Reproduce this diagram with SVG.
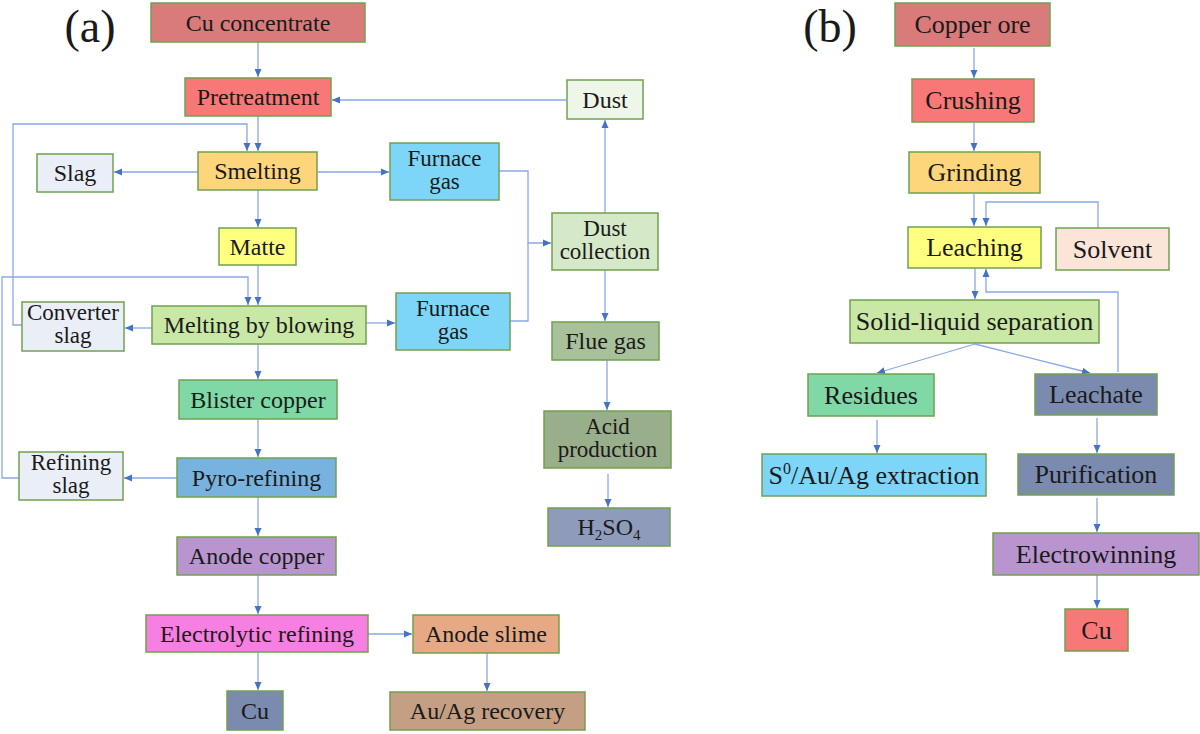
<svg xmlns="http://www.w3.org/2000/svg" width="1200" height="734" viewBox="0 0 1200 734" font-family="'Liberation Serif', 'Times New Roman', 'DejaVu Serif', serif">
<defs>
<marker id="ah" viewBox="0 0 8 8" refX="8" refY="4" markerWidth="8" markerHeight="8" markerUnits="userSpaceOnUse" orient="auto"><path d="M0,0.5 L8,4 L0,7.5 z" fill="#4472c4"/></marker>
<style>
rect{stroke:#72a04f;stroke-width:1.5}
text{fill:#1a1a1a;text-anchor:middle}
.a text{font-size:24px}
.b text{font-size:26px}
.a text.two{font-size:23px}
text.lbl{font-size:46px}
#conn path{fill:none;stroke:#8aa8e6;stroke-width:1.3}
#conn path.ar{marker-end:url(#ah)}
</style>
</defs>
<rect width="1200" height="734" fill="#fff" style="stroke:none"/>
<text class="lbl" x="90" y="42" font-family="'Liberation Serif', serif">(a)</text>
<text class="lbl" x="830" y="42" font-family="'Liberation Serif', serif">(b)</text>
<g id="conn">
<path class="ar" d="M258,42 V77"/>
<path class="ar" d="M566,100 H332"/>
<path class="ar" d="M258,116 V151"/>
<path class="ar" d="M22,325 H13 V124 H247 V151"/>
<path class="ar" d="M198,172 H114"/>
<path class="ar" d="M318,172 H389"/>
<path class="ar" d="M499,171 H528 V243 H551"/>
<path d="M510,321 H528 V243"/>
<path class="ar" d="M605,213 V120"/>
<path class="ar" d="M258,190 V227"/>
<path class="ar" d="M258,265 V305"/>
<path class="ar" d="M19,478 H2 V277 H248 V305"/>
<path class="ar" d="M152,328 H125"/>
<path class="ar" d="M366,323 H395"/>
<path class="ar" d="M258,344 V379"/>
<path class="ar" d="M258,419 V457"/>
<path class="ar" d="M177,478 H124"/>
<path class="ar" d="M258,497 V536"/>
<path class="ar" d="M258,575 V614"/>
<path class="ar" d="M368,634 H412"/>
<path class="ar" d="M258,652 V690"/>
<path class="ar" d="M487,653 V691"/>
<path class="ar" d="M605,270 V321"/>
<path class="ar" d="M607,360 V410"/>
<path class="ar" d="M608,474 V507"/>
<path class="ar" d="M974,48 V78"/>
<path class="ar" d="M974,123 V151"/>
<path class="ar" d="M974,194 V226"/>
<path class="ar" d="M1098,228 V202 H986 V226"/>
<path class="ar" d="M975,268 V299"/>
<path class="ar" d="M1118,372 V292 H986 V269"/>
<path class="ar" d="M975,344 L877,373"/>
<path class="ar" d="M975,344 L1090,373"/>
<path class="ar" d="M877,420 V453"/>
<path class="ar" d="M1097,418 V453"/>
<path class="ar" d="M1097,498 V532"/>
<path class="ar" d="M1097,575 V608"/>
</g>
<g class="a" font-family="'Liberation Serif', serif">
<g id="cu-concentrate"><rect x="151" y="3" width="214" height="39" fill="#d97b7b"/><text x="258" y="31">Cu concentrate</text></g>
<g id="pretreatment"><rect x="185" y="78" width="146" height="38" fill="#f87878"/><text x="258" y="105">Pretreatment</text></g>
<g id="smelting"><rect x="198" y="152" width="119" height="38" fill="#fdd57b"/><text x="257.5" y="179">Smelting</text></g>
<g id="slag"><rect x="37" y="154" width="76" height="38" fill="#e9eef7"/><text x="75" y="181">Slag</text></g>
<g id="furnace-gas-1"><rect x="390" y="143" width="109" height="57" fill="#7dd6f7"/><text class="two" x="444.5" y="166">Furnace</text><text class="two" x="444.5" y="189">gas</text></g>
<g id="dust"><rect x="567" y="80" width="76" height="39" fill="#eef5e9"/><text x="605" y="108">Dust</text></g>
<g id="dust-collection"><rect x="552" y="213" width="106" height="57" fill="#d5e8c8"/><text class="two" x="605" y="236">Dust</text><text class="two" x="605" y="259">collection</text></g>
<g id="matte"><rect x="219" y="228" width="77" height="37" fill="#ffff80"/><text x="257.5" y="255">Matte</text></g>
<g id="melting"><rect x="152" y="306" width="214" height="38" fill="#c9e7a5"/><text x="259" y="333">Melting by blowing</text></g>
<g id="converter-slag"><rect x="22" y="302" width="102" height="49" fill="#e9eef7"/><text class="two" x="73" y="320">Converter</text><text class="two" x="73" y="343">slag</text></g>
<g id="furnace-gas-2"><rect x="396" y="293" width="114" height="57" fill="#7dd6f7"/><text class="two" x="453" y="316">Furnace</text><text class="two" x="453" y="339">gas</text></g>
<g id="blister-copper"><rect x="179" y="380" width="158" height="39" fill="#7fd8a5"/><text x="258" y="408">Blister copper</text></g>
<g id="pyro-refining"><rect x="177" y="458" width="159" height="39" fill="#78b3df"/><text x="256.5" y="486">Pyro-refining</text></g>
<g id="refining-slag"><rect x="19" y="452" width="104" height="48" fill="#e9eef7"/><text class="two" x="71" y="470">Refining</text><text class="two" x="71" y="493">slag</text></g>
<g id="anode-copper"><rect x="177" y="537" width="159" height="38" fill="#b995cf"/><text x="256.5" y="564">Anode copper</text></g>
<g id="electrolytic-refining"><rect x="146" y="615" width="222" height="37" fill="#f77fe2"/><text x="257" y="642">Electrolytic refining</text></g>
<g id="anode-slime"><rect x="413" y="615" width="146" height="38" fill="#e6a985"/><text x="486" y="642">Anode slime</text></g>
<g id="cu-a"><rect x="227" y="691" width="56" height="39" fill="#7b8bb0"/><text x="255" y="719">Cu</text></g>
<g id="au-ag-recovery"><rect x="390" y="692" width="195" height="38" fill="#c59f84"/><text x="487.5" y="719">Au/Ag recovery</text></g>
<g id="flue-gas"><rect x="552" y="322" width="107" height="38" fill="#a9c19a"/><text x="605.5" y="349">Flue gas</text></g>
<g id="acid-production"><rect x="544" y="411" width="127" height="57" fill="#99ae8a"/><text class="two" x="607.5" y="434">Acid</text><text class="two" x="607.5" y="457">production</text></g>
<g id="h2so4"><rect x="548" y="508" width="122" height="38" fill="#8f9bba"/><text x="609" y="535">H<tspan font-size="15" dy="5">2</tspan><tspan dy="-5">SO</tspan><tspan font-size="15" dy="5">4</tspan></text></g>
</g>
<g class="b" font-family="'Liberation Serif', serif">
<g id="copper-ore"><rect x="895" y="3" width="155" height="43" fill="#d97b7b"/><text x="972.5" y="33">Copper ore</text></g>
<g id="crushing"><rect x="912" y="79" width="122" height="43" fill="#f87878"/><text x="973" y="109">Crushing</text></g>
<g id="grinding"><rect x="909" y="152" width="131" height="41" fill="#fdd57b"/><text x="974.5" y="181">Grinding</text></g>
<g id="leaching"><rect x="908" y="227" width="133" height="41" fill="#ffff80"/><text x="974.5" y="256">Leaching</text></g>
<g id="solvent"><rect x="1056" y="228" width="113" height="42" fill="#fae5d8"/><text x="1112.5" y="258">Solvent</text></g>
<g id="solid-liquid"><rect x="850" y="300" width="249" height="43" fill="#c9e7a5"/><text x="974.5" y="330">Solid-liquid separation</text></g>
<g id="residues"><rect x="808" y="374" width="126" height="42" fill="#7fd8a5"/><text x="871" y="404">Residues</text></g>
<g id="leachate"><rect x="1035" y="374" width="122" height="41" fill="#7b8bb0"/><text x="1096" y="403">Leachate</text></g>
<g id="s0-extraction"><rect x="762" y="454" width="224" height="42" fill="#7dd6f7"/><text x="874" y="484">S<tspan font-size="16" dy="-10">0</tspan><tspan dy="10">/Au/Ag extraction</tspan></text></g>
<g id="purification"><rect x="1018" y="454" width="156" height="41" fill="#7b8bb0"/><text x="1096" y="483">Purification</text></g>
<g id="electrowinning"><rect x="993" y="533" width="206" height="42" fill="#b995cf"/><text x="1096" y="563">Electrowinning</text></g>
<g id="cu-b"><rect x="1065" y="609" width="63" height="42" fill="#f87878"/><text x="1096.5" y="639">Cu</text></g>
</g>
</svg>
